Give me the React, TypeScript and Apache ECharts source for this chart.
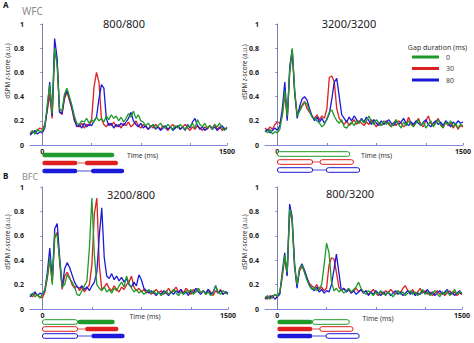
import React, { useEffect, useRef } from "react";
import * as echarts from "echarts";

// Sampling times (ms) of the traces
const TIMES: number[] = Array.from({ length: 81 }, (_, i) => -100 + i * 20);
const X_TICKS = [0, 400, 800, 1200, 1500];
const X_LABELS = [0, 1500];
const GAPS = ["0", "30", "80"];
const COLORS = ["#1f9a2a", "#dd1f1f", "#1a1ad8"];
const TITLES = ["800/800", "3200/3200", "3200/800", "800/3200"];

// A – 800/800
const AL_G = [
  0.10,0.12,0.09,0.13,0.11,0.12,0.15,0.33,0.50,0.26,
  0.80,0.66,0.30,0.28,0.42,0.47,0.40,0.33,0.24,0.18,
  0.17,0.20,0.19,0.22,0.18,0.21,0.19,0.23,0.20,0.22,
  0.19,0.24,0.21,0.25,0.22,0.24,0.20,0.23,0.19,0.22,
  0.26,0.23,0.28,0.22,0.25,0.20,0.19,0.16,0.18,0.15,
  0.17,0.14,0.16,0.18,0.15,0.14,0.17,0.15,0.13,0.16,
  0.14,0.17,0.15,0.13,0.16,0.15,0.18,0.14,0.21,0.17,
  0.15,0.18,0.14,0.16,0.13,0.17,0.15,0.18,0.14,0.12,
  0.15];
const AL_R = [
  0.09,0.11,0.10,0.12,0.14,0.13,0.17,0.28,0.42,0.22,
  0.76,0.70,0.28,0.25,0.38,0.44,0.37,0.30,0.20,0.16,
  0.15,0.18,0.14,0.17,0.16,0.20,0.48,0.60,0.52,0.22,
  0.17,0.15,0.18,0.16,0.19,0.15,0.17,0.14,0.18,0.16,
  0.19,0.15,0.17,0.20,0.16,0.14,0.17,0.15,0.13,0.16,
  0.14,0.17,0.15,0.13,0.16,0.14,0.12,0.15,0.17,0.14,
  0.16,0.13,0.15,0.17,0.14,0.12,0.15,0.13,0.16,0.14,
  0.12,0.15,0.13,0.16,0.14,0.17,0.13,0.15,0.12,0.14,
  0.13];
const AL_B = [
  0.08,0.10,0.12,0.09,0.11,0.10,0.14,0.30,0.52,0.24,
  0.88,0.72,0.27,0.26,0.40,0.45,0.39,0.31,0.22,0.15,
  0.17,0.14,0.18,0.15,0.17,0.16,0.20,0.23,0.38,0.50,
  0.47,0.22,0.16,0.18,0.14,0.17,0.15,0.18,0.16,0.19,
  0.22,0.27,0.20,0.17,0.15,0.18,0.14,0.16,0.13,0.15,
  0.17,0.13,0.15,0.12,0.14,0.16,0.13,0.15,0.12,0.14,
  0.16,0.13,0.15,0.12,0.17,0.14,0.19,0.22,0.16,0.13,
  0.15,0.12,0.14,0.16,0.13,0.15,0.12,0.14,0.16,0.13,
  0.14];

// A – 3200/3200
const AR_G = [
  0.12,0.10,0.13,0.09,0.11,0.10,0.13,0.25,0.45,0.24,
  0.62,0.80,0.45,0.24,0.28,0.32,0.35,0.34,0.28,0.23,
  0.22,0.20,0.18,0.15,0.17,0.22,0.27,0.29,0.24,0.20,
  0.18,0.21,0.15,0.14,0.17,0.19,0.16,0.20,0.18,0.21,
  0.18,0.20,0.24,0.19,0.17,0.21,0.18,0.16,0.20,0.17,
  0.19,0.15,0.18,0.21,0.17,0.14,0.19,0.16,0.20,0.17,
  0.15,0.18,0.21,0.16,0.19,0.14,0.17,0.20,0.15,0.18,
  0.21,0.16,0.14,0.19,0.17,0.20,0.15,0.18,0.14,0.17,
  0.16];
const AR_R = [
  0.14,0.12,0.15,0.13,0.17,0.19,0.18,0.24,0.42,0.22,
  0.60,0.78,0.42,0.25,0.30,0.33,0.36,0.30,0.27,0.24,
  0.22,0.25,0.21,0.24,0.22,0.30,0.56,0.57,0.52,0.30,
  0.22,0.19,0.17,0.20,0.16,0.18,0.21,0.17,0.20,0.18,
  0.16,0.19,0.17,0.21,0.18,0.15,0.19,0.16,0.18,0.20,
  0.17,0.15,0.19,0.16,0.20,0.18,0.15,0.17,0.23,0.18,
  0.16,0.19,0.22,0.17,0.15,0.20,0.24,0.18,0.16,0.19,
  0.22,0.17,0.15,0.19,0.16,0.18,0.14,0.17,0.13,0.16,
  0.15];
const AR_B = [
  0.11,0.13,0.10,0.12,0.14,0.12,0.16,0.30,0.52,0.20,
  0.65,0.79,0.44,0.22,0.32,0.38,0.40,0.37,0.30,0.24,
  0.20,0.23,0.19,0.22,0.18,0.21,0.26,0.38,0.52,0.55,
  0.40,0.25,0.22,0.19,0.23,0.20,0.24,0.21,0.18,0.22,
  0.19,0.23,0.20,0.17,0.21,0.18,0.16,0.20,0.17,0.19,
  0.21,0.18,0.16,0.20,0.17,0.19,0.22,0.18,0.16,0.19,
  0.17,0.20,0.18,0.16,0.19,0.21,0.17,0.15,0.18,0.20,
  0.17,0.19,0.16,0.20,0.18,0.15,0.19,0.17,0.20,0.18,
  0.19];

// B – 3200/800
const BL_G = [
  0.11,0.13,0.10,0.12,0.09,0.12,0.16,0.27,0.42,0.20,
  0.62,0.60,0.40,0.18,0.20,0.28,0.25,0.22,0.18,0.12,
  0.11,0.15,0.19,0.23,0.50,0.91,0.45,0.20,0.17,0.15,
  0.18,0.14,0.16,0.13,0.17,0.15,0.19,0.22,0.18,0.27,
  0.21,0.17,0.14,0.16,0.13,0.15,0.12,0.14,0.16,0.13,
  0.15,0.12,0.14,0.11,0.13,0.15,0.12,0.14,0.16,0.13,
  0.11,0.14,0.12,0.15,0.13,0.16,0.12,0.14,0.17,0.13,
  0.15,0.12,0.14,0.11,0.13,0.19,0.14,0.12,0.15,0.13,
  0.12];
const BL_R = [
  0.12,0.10,0.13,0.11,0.10,0.09,0.14,0.25,0.40,0.22,
  0.58,0.63,0.38,0.16,0.27,0.30,0.26,0.20,0.17,0.19,
  0.15,0.18,0.14,0.17,0.20,0.36,0.78,0.91,0.36,0.16,
  0.18,0.21,0.17,0.15,0.19,0.16,0.14,0.18,0.16,0.20,
  0.22,0.27,0.18,0.15,0.17,0.14,0.16,0.13,0.15,0.12,
  0.14,0.16,0.13,0.15,0.12,0.14,0.17,0.13,0.15,0.18,
  0.14,0.16,0.13,0.17,0.15,0.12,0.16,0.14,0.17,0.13,
  0.15,0.12,0.16,0.14,0.11,0.15,0.13,0.16,0.12,0.14,
  0.13];
const BL_B = [
  0.10,0.12,0.14,0.11,0.13,0.12,0.15,0.30,0.50,0.24,
  0.66,0.70,0.42,0.18,0.33,0.38,0.34,0.28,0.22,0.18,
  0.17,0.19,0.16,0.18,0.15,0.19,0.22,0.30,0.60,0.83,
  0.42,0.27,0.25,0.29,0.24,0.27,0.23,0.26,0.22,0.25,
  0.20,0.18,0.22,0.19,0.28,0.24,0.17,0.15,0.13,0.15,
  0.13,0.11,0.14,0.12,0.15,0.13,0.11,0.14,0.12,0.15,
  0.13,0.16,0.12,0.14,0.11,0.15,0.13,0.17,0.14,0.12,
  0.15,0.13,0.16,0.12,0.14,0.19,0.13,0.15,0.12,0.14,
  0.13];

// B – 800/3200
const BR_G = [
  0.09,0.11,0.08,0.10,0.12,0.11,0.14,0.28,0.44,0.30,
  0.82,0.74,0.36,0.20,0.33,0.36,0.30,0.24,0.19,0.16,
  0.18,0.15,0.17,0.20,0.36,0.54,0.46,0.22,0.15,0.17,
  0.14,0.16,0.13,0.15,0.17,0.14,0.16,0.18,0.22,0.17,
  0.14,0.12,0.15,0.13,0.11,0.14,0.12,0.15,0.13,0.11,
  0.14,0.12,0.10,0.13,0.15,0.12,0.14,0.11,0.13,0.15,
  0.12,0.14,0.11,0.13,0.16,0.12,0.14,0.11,0.13,0.15,
  0.12,0.10,0.14,0.12,0.15,0.11,0.13,0.16,0.12,0.14,
  0.13];
const BR_R = [
  0.10,0.08,0.11,0.09,0.12,0.10,0.13,0.26,0.42,0.28,
  0.80,0.72,0.34,0.19,0.31,0.35,0.31,0.25,0.21,0.19,
  0.17,0.20,0.16,0.18,0.15,0.17,0.36,0.42,0.41,0.30,
  0.18,0.15,0.17,0.14,0.16,0.13,0.15,0.17,0.14,0.16,
  0.13,0.15,0.12,0.14,0.16,0.13,0.11,0.14,0.12,0.15,
  0.13,0.16,0.14,0.12,0.15,0.13,0.17,0.19,0.15,0.13,
  0.16,0.12,0.14,0.17,0.13,0.15,0.12,0.14,0.11,0.13,
  0.15,0.12,0.14,0.11,0.13,0.15,0.12,0.14,0.11,0.13,
  0.12];
const BR_B = [
  0.08,0.10,0.09,0.11,0.08,0.10,0.12,0.30,0.46,0.27,
  0.86,0.76,0.38,0.17,0.33,0.37,0.32,0.26,0.20,0.17,
  0.15,0.18,0.14,0.16,0.13,0.15,0.14,0.20,0.32,0.45,
  0.30,0.15,0.17,0.14,0.16,0.13,0.15,0.12,0.14,0.16,
  0.13,0.15,0.11,0.14,0.12,0.15,0.13,0.11,0.14,0.12,
  0.14,0.11,0.13,0.15,0.12,0.14,0.11,0.13,0.15,0.12,
  0.14,0.11,0.13,0.12,0.15,0.13,0.16,0.12,0.14,0.11,
  0.13,0.15,0.12,0.14,0.16,0.12,0.14,0.11,0.13,0.15,
  0.12];

// Stimulus bars: [start ms, end ms, row, kind (1 filled, 0 hollow, 2 connector), colour index]
const STIM_AL = [
  [285,345,2,2,1],[285,395,3,2,2],
  [0,585,1,1,0],
  [0,285,2,1,1],[345,615,2,1,1],
  [0,285,3,1,2],[395,665,3,1,2],
];
const STIM_AR = [
  [285,345,2,2,1],[285,395,3,2,2],
  [0,585,1,0,0],
  [0,285,2,0,1],[345,615,2,0,1],
  [0,285,3,0,2],[395,665,3,0,2],
];
const STIM_BL = [
  [285,345,2,2,1],[285,395,3,2,2],
  [0,285,1,0,0],[285,585,1,1,0],
  [0,285,2,0,1],[345,615,2,1,1],
  [0,285,3,0,2],[395,665,3,1,2],
];
const STIM_BR = [
  [285,345,2,2,1],[285,395,3,2,2],
  [0,285,1,1,0],[285,585,1,0,0],
  [0,285,2,1,1],[345,615,2,0,1],
  [0,285,3,1,2],[395,665,3,0,2],
];

const TRACES = [
  [AL_G, AL_R, AL_B],
  [AR_G, AR_R, AR_B],
  [BL_G, BL_R, BL_B],
  [BR_G, BR_R, BR_B],
];
const STIMS = [STIM_AL, STIM_AR, STIM_BL, STIM_BR];

const FONT = "Noto Sans";
const AXIS_COLOR = "#8585dd";

const MAIN_GRIDS = [
  { left: 30, top: 24, width: 197, height: 121 },
  { left: 265, top: 24, width: 198, height: 121 },
  { left: 30, top: 187, width: 198, height: 122 },
  { left: 265, top: 187, width: 197, height: 122 },
];
const STIM_GRIDS = [
  { left: 30, top: 147, width: 197, height: 32 },
  { left: 265, top: 146, width: 198, height: 32 },
  { left: 30, top: 315, width: 198, height: 32 },
  { left: 265, top: 315, width: 197, height: 32 },
];
const TITLE_POS = [[124, 23], [349, 23], [131, 194], [350, 193]];
const YNAME_POS = [[7, 71], [244, 72], [7, 242], [244, 242]];
const TIME_POS = [[142.5, 155.5], [376.5, 155.5], [145, 316], [378, 318]];

const pts = (vals: number[]) => TIMES.map((t, i) => [t, vals[i]]);

function buildOption() {
  const grids: any[] = [];
  const xAxes: any[] = [];
  const yAxes: any[] = [];
  const series: any[] = [];

  MAIN_GRIDS.forEach((g, p) => {
    grids.push({ ...g, containLabel: false });
    xAxes.push({
      type: "value", gridIndex: p, min: -100, max: 1500,
      axisLine: { show: true, lineStyle: { color: AXIS_COLOR, width: 1 } },
      axisTick: { show: true, inside: true, length: 2, customValues: X_TICKS, lineStyle: { color: AXIS_COLOR } },
      axisLabel: {
        show: true, customValues: X_LABELS, fontSize: 7, fontWeight: "bold", color: "#222", margin: 3, fontFamily: FONT,
        formatter: (v: number) => String(v),
      },
      splitLine: { show: false },
    });
    yAxes.push({
      type: "value", gridIndex: p, min: 0, max: 1, interval: 0.2,
      axisLine: { show: true, lineStyle: { color: AXIS_COLOR, width: 1 } },
      axisTick: { show: true, length: 2, lineStyle: { color: AXIS_COLOR } },
      axisLabel: { fontSize: 7, fontWeight: "bold", color: "#222", margin: 6, fontFamily: FONT },
      splitLine: { show: false },
    });
  });
  STIM_GRIDS.forEach((g) => {
    grids.push({ ...g });
    const gi = grids.length - 1;
    xAxes.push({ type: "value", gridIndex: gi, min: -100, max: 1500, show: false });
    yAxes.push({ type: "value", gridIndex: gi, min: 0, max: 4, inverse: true, show: false });
  });

  const order = [1, 2, 0];
  TRACES.forEach((tr, p) => {
    order.forEach((c, k) => {
      const s: any = {
        type: "line", name: GAPS[c], xAxisIndex: p, yAxisIndex: p,
        data: pts(tr[c]), showSymbol: false, symbol: "none",
        lineStyle: { width: 1.3, color: COLORS[c] },
        itemStyle: { color: COLORS[c] },
        z: 3 + k,
      };
      if (k === 0) {
        s.markLine = {
          silent: true, symbol: "none", label: { show: false },
          lineStyle: { type: "dotted", color: "#777", width: 1 },
          data: [{ xAxis: 0 }],
        };
      }
      series.push(s);
    });
    series.push({
      type: "custom", name: "stim" + p, xAxisIndex: 4 + p, yAxisIndex: 4 + p,
      clip: false, silent: true,
      data: STIMS[p],
      renderItem: (params: any, api: any) => {
        const s = api.coord([api.value(0), api.value(2)]);
        const e = api.coord([api.value(1), api.value(2)]);
        const kind = api.value(3);
        const col = COLORS[api.value(4)];
        if (kind === 2) {
          return { type: "line", shape: { x1: s[0], y1: s[1], x2: e[0], y2: e[1] }, style: { stroke: col, lineWidth: 0.8 } };
        }
        return {
          type: "rect",
          shape: { x: s[0], y: s[1] - 2.3, width: e[0] - s[0], height: 4.6, r: 2.3 },
          style: kind === 1 ? { fill: col } : { fill: "#fff", stroke: col, lineWidth: 1 },
        };
      },
    });
  });

  const graphic: any[] = [
    { type: "text", x: 3, y: 4, style: { text: "A", fontSize: 8, fontWeight: "bold", fill: "#111", fontFamily: FONT, verticalAlign: "middle" } },
    { type: "text", x: 22, y: 10.5, style: { text: "WFC", fontSize: 10, fill: "#8a8a8a", fontFamily: FONT, verticalAlign: "middle" } },
    { type: "text", x: 3, y: 175, style: { text: "B", fontSize: 8, fontWeight: "bold", fill: "#111", fontFamily: FONT, verticalAlign: "middle" } },
    { type: "text", x: 22, y: 176, style: { text: "BFC", fontSize: 9, fill: "#8a8a8a", fontFamily: FONT, verticalAlign: "middle" } },
    { type: "text", x: 437.5, y: 47, style: { text: "Gap duration (ms)", fontSize: 7, fill: "#333", fontFamily: FONT, align: "center", verticalAlign: "middle" } },
  ];
  TITLES.forEach((t, p) => {
    graphic.push({ type: "text", x: TITLE_POS[p][0], y: TITLE_POS[p][1], style: { text: t, fontSize: 11, fill: "#222", fontFamily: FONT, align: "center", verticalAlign: "middle" } });
    graphic.push({
      type: "text", x: YNAME_POS[p][0], y: YNAME_POS[p][1], rotation: Math.PI / 2,
      style: {
        text: "dSPM {i|z}-score (a.u.)", fontSize: 6.3, fill: "#333", fontFamily: FONT,
        align: "center", verticalAlign: "middle",
        rich: { i: { fontStyle: "italic", fontSize: 6.3, fill: "#333", fontFamily: FONT } },
      },
    });
    graphic.push({ type: "text", x: TIME_POS[p][0], y: TIME_POS[p][1], style: { text: "Time (ms)", fontSize: 6.8, fill: "#333", fontFamily: FONT, align: "center", verticalAlign: "middle" } });
  });

  return {
    animation: false,
    backgroundColor: "#fff",
    textStyle: { fontFamily: FONT },
    grid: grids,
    xAxis: xAxes,
    yAxis: yAxes,
    legend: {
      data: GAPS, orient: "vertical", left: 412, top: 52, padding: 0,
      itemWidth: 27, itemHeight: 3, itemGap: 1.5, icon: "rect", selectedMode: false,
      textStyle: { fontSize: 7, color: "#444", lineHeight: 10, fontFamily: FONT, padding: [0, 0, 0, 2] },
    },
    graphic,
    series,
  };
}

export default function App() {
  const ref = useRef<HTMLDivElement>(null);
  useEffect(() => {
    if (!ref.current) return;
    const chart = echarts.init(ref.current, undefined, { renderer: "svg" });
    chart.setOption(buildOption() as any);
    return () => chart.dispose();
  }, []);
  return (
    <div
      ref={ref}
      style={{ position: "absolute", left: 0, top: 0, width: 474, height: 343, background: "#fff" }}
    />
  );
}
